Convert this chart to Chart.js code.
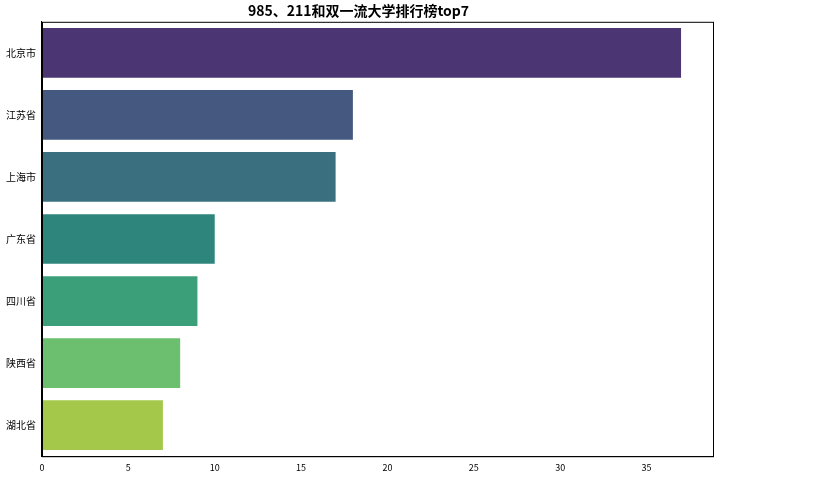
<!DOCTYPE html>
<html>
<head>
<meta charset="utf-8">
<script src="https://cdn.jsdelivr.net/npm/chart.js@4"></script>
<style>
  html, body { margin: 0; padding: 0; background: #fff; }
  #wrap { width: 835px; height: 479px; }
</style>
</head>
<body>
<div id="wrap"><canvas id="chart"></canvas></div>
<script>
// Provinces and their count of 985/211/double first-class universities
const provinces = ['北京市', '江苏省', '上海市', '广东省', '四川省', '陕西省', '湖北省'];
const counts = [37, 18, 17, 10, 9, 8, 7];
const barColors = ['#4b3573', '#45587f', '#3a6f80', '#2e857b', '#3ba07a', '#6bbf6e', '#a3c84a'];
const xTicks = [0, 5, 10, 15, 20, 25, 30, 35];

const fontFamily = '"Noto Sans CJK SC", "DejaVu Sans", sans-serif';

new Chart(document.getElementById('chart'), {
  type: 'bar',
  data: {
    labels: provinces,
    datasets: [{
      data: counts,
      backgroundColor: barColors,
      borderWidth: 0,
      categoryPercentage: 1,
      barPercentage: 0.8
    }]
  },
  options: {
    indexAxis: 'y',
    responsive: true,
    maintainAspectRatio: false,
    animation: false,
    layout: { padding: { left: 4, right: 122, top: 0, bottom: 4 } },
    scales: {
      x: {
        min: 0,
        max: 38.85,
        afterBuildTicks: (axis) => { axis.ticks = xTicks.map(v => ({ value: v })); },
        grid: { display: false, drawTicks: true, tickLength: 4, color: '#000' },
        border: { display: true, color: '#000', width: 1 },
        ticks: { color: '#000', font: { family: fontFamily, size: 9 }, padding: 2, maxRotation: 0 }
      },
      y: {
        grid: { display: false, tickLength: 4 },
        border: { display: true, color: '#000', width: 1 },
        ticks: { color: '#000', font: { family: fontFamily, size: 10 }, padding: 2 }
      }
    },
    plugins: {
      legend: { display: false },
      tooltip: { enabled: false },
      title: {
        display: true,
        text: '985、211和双一流大学排行榜top7',
        color: '#000',
        font: { family: fontFamily, size: 14, weight: 'bold' },
        padding: { top: 2, bottom: 3 }
      }
    }
  },
  plugins: [{
    // draw the top and right spines like matplotlib
    id: 'frame',
    afterDraw(chart) {
      const { ctx, chartArea: a } = chart;
      ctx.save();
      ctx.strokeStyle = '#000';
      ctx.lineWidth = 1;
      ctx.strokeRect(a.left + 0.5, a.top + 0.5, a.right - a.left, a.bottom - a.top);
      ctx.restore();
    }
  }]
});
</script>
</body>
</html>
